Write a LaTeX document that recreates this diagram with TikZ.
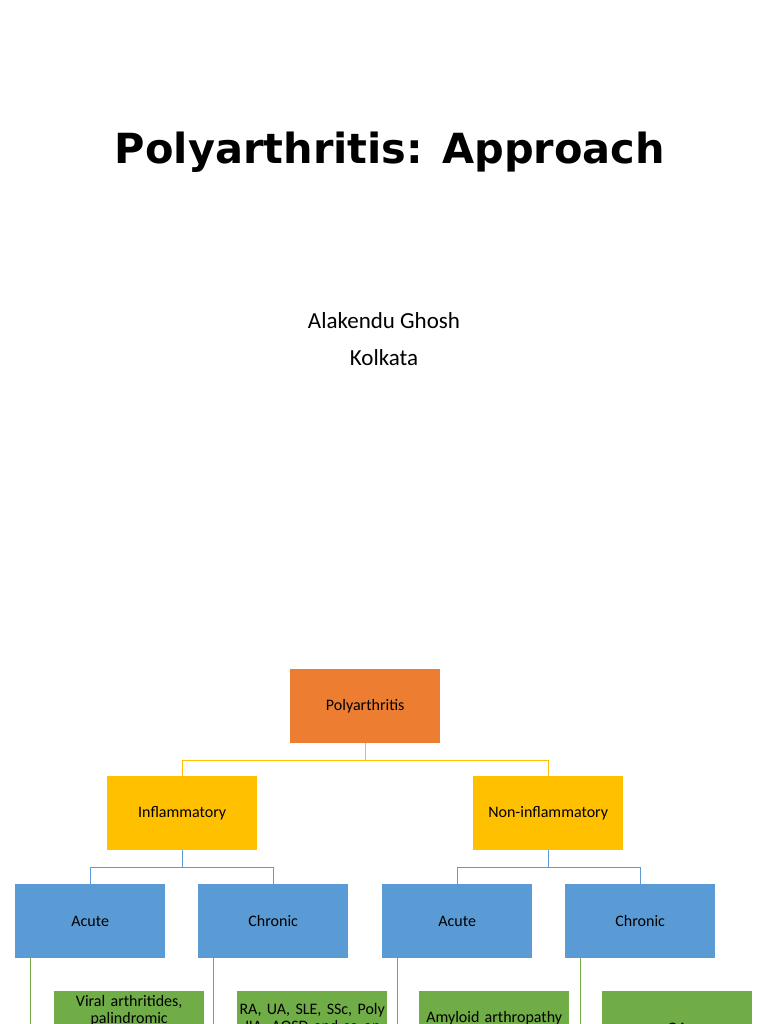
\documentclass[tikz,border=0pt]{standalone}
\usepackage{fontspec}
\setmainfont{Carlito}
\newfontfamily\titlefont{DejaVu Sans}
\begin{document}
\begin{tikzpicture}[x=1pt,y=-1pt,
 box/.style={minimum width=150pt,minimum height=74pt,inner sep=0pt,font=\fontsize{16}{17}\selectfont,align=center,anchor=north west},
 gbox/.style={box,fill=gr,text width=148pt}]
\definecolor{orng}{HTML}{ED7D31}\definecolor{yel}{HTML}{FFC000}
\definecolor{blu}{HTML}{5B9BD5}\definecolor{gr}{HTML}{70AD47}
\path[use as bounding box] (0,0) rectangle (768,1024);
\clip (0,0) rectangle (768,1024);
\node[font=\titlefont\bfseries\fontsize{41.5}{50}\selectfont] (title) at (390,152) {Polyarthritis: Approach};
\node[font=\fontsize{23}{37}\selectfont,align=center] (auth) at (384,339) {Alakendu Ghosh\\Kolkata};
\node[box,fill=orng] (p) at (290,669) {Polyarthritis};
\node[box,fill=yel] (inf) at (107,776) {Inflammatory};
\node[box,fill=yel] (ninf) at (473,776) {Non-inflammatory};
\node[box,fill=blu] (a1) at (15,884) {Acute};
\node[box,fill=blu] (c1) at (198,884) {Chronic};
\node[box,fill=blu] (a2) at (382,884) {Acute};
\node[box,fill=blu] (c2) at (565,884) {Chronic};
\node[gbox] (g1) at (54,991) {Viral arthritides,\\palindromic\\rheumatism,\\early RA};
\node[gbox] (g2) at (237,991) {RA, UA, SLE, SSc, Poly\\JIA, AOSD and so on\\\strut};
\node[gbox] (g3) at (419,991) {Amyloid arthropathy\\\strut};
\node[gbox] (g4) at (602,991) {OA};
\draw[yel,line width=0.7pt] (p.south) -- ++(0,17) -| (inf.north);
\draw[yel,line width=0.7pt] (p.south) ++(0,17) -| (ninf.north);
\draw[blu,line width=0.7pt] (inf.south) -- ++(0,17) -| (a1.north);
\draw[blu,line width=0.7pt] (inf.south) ++(0,17) -| (c1.north);
\draw[blu,line width=0.7pt] (ninf.south) -- ++(0,17) -| (a2.north);
\draw[blu,line width=0.7pt] (ninf.south) ++(0,17) -| (c2.north);
\foreach \a/\g in {a1/g1,c1/g2,a2/g3,c2/g4}
  \draw[gr,line width=0.7pt] ([xshift=15pt]\a.south west) |- (\g.west);
\end{tikzpicture}
\end{document}
